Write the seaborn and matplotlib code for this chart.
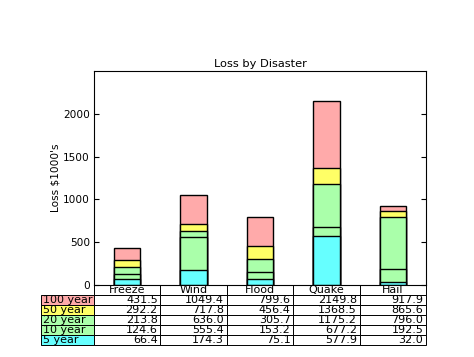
import numpy as np
import seaborn as sns
import matplotlib.pyplot as plt

# Data (cumulative losses in $1000's, as shown in the table)
columns = ['Freeze', 'Wind', 'Flood', 'Quake', 'Hail']
rows = ['100 year', '50 year', '20 year', '10 year', '5 year']
loss_100 = [431.5, 1049.4, 799.6, 2149.8, 917.9]
loss_50 = [292.2, 717.8, 456.4, 1368.5, 865.6]
loss_20 = [213.8, 636.0, 305.7, 1175.2, 796.0]
loss_10 = [124.6, 555.4, 153.2, 677.2, 192.5]
loss_5 = [66.4, 174.3, 75.1, 577.9, 32.0]
colours = ['#ffaaaa', '#ffff66', '#aaffaa', '#aaffaa', '#66ffff']

cum_rows = [loss_100, loss_50, loss_20, loss_10, loss_5]

plt.rcParams['font.family'] = ['DejaVu Sans']
fig = plt.figure(figsize=(4.74, 3.57), dpi=100)
ax = fig.add_axes([94 / 474, 1 - 285 / 357, 332 / 474, 214 / 357])

# tallest first, smaller totals drawn over them -> stacked look
for vals, col in zip(cum_rows, colours):
    sns.barplot(x=columns, y=vals, color=col, saturation=1, width=0.4,
                edgecolor='black', linewidth=1.0, ax=ax)

ax.set_ylim(0, 2500)
ax.set_xlim(-0.5, 4.5)
ax.set_yticks(np.arange(0, 2500, 500))
ax.set_xticks([])
ax.set_xlabel('')
ax.tick_params(axis='y', direction='in', left=True, right=True,
               labelsize=7.6, length=3.5, pad=3)
ax.set_ylabel("Loss \\$1000's", fontsize=7.6, labelpad=2)
ax.set_title('Loss by Disaster', fontsize=8.2, pad=3)
for s in ax.spines.values():
    s.set_color('black')
    s.set_linewidth(0.8)

# table: first column holds the coloured row labels
lw = 53 / 332
cell_text = [[lab] + ['%1.1f' % v for v in r] for lab, r in zip(rows, cum_rows)]
cell_cols = [[c] + ['white'] * 5 for c in colours]
tbl = ax.table(cellText=cell_text, cellColours=cell_cols,
               colLabels=[''] + columns, colWidths=[lw] + [0.2] * 5,
               colLoc='center', cellLoc='right',
               bbox=[-lw, -60 / 214, 1 + lw, 60 / 214])
tbl.auto_set_font_size(False)
tbl.set_fontsize(8.0)
for (r, c), cell in tbl.get_celld().items():
    cell.set_linewidth(0.7)
    cell.PAD = 0.04
    if c == 0:
        cell._loc = 'left'
        cell.get_text().set_ha('left')
        cell.PAD = 0.04
        if r == 0:
            cell.visible_edges = ''

fig.savefig('out.png', dpi=100, facecolor='white')
